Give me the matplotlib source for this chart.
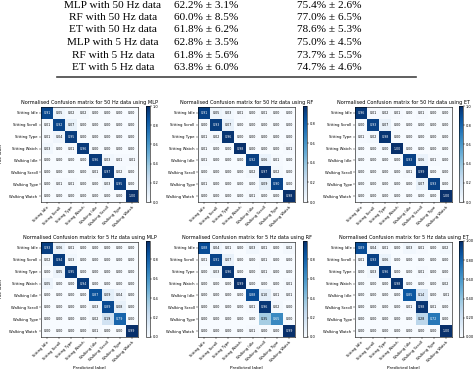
import numpy as np
import matplotlib
matplotlib.use("Agg")
import matplotlib.pyplot as plt
from matplotlib.ticker import FormatStrFormatter

# table rows (top part of the figure)
models = ["MLP with 50 Hz data", "RF with 50 Hz data", "ET with 50 Hz data",
          "MLP with 5 Hz data", "RF with 5 Hz data", "ET with 5 Hz data"]
acc_a = ["62.2% \u00b1 3.1%", "60.0% \u00b1 8.5%", "61.8% \u00b1 6.2%",
         "62.8% \u00b1 3.5%", "61.8% \u00b1 5.6%", "63.8% \u00b1 6.0%"]
acc_b = ["75.4% \u00b1 2.6%", "77.0% \u00b1 6.5%", "78.6% \u00b1 5.3%",
         "75.0% \u00b1 4.5%", "73.7% \u00b1 5.5%", "74.7% \u00b1 4.6%"]

classes = ["Sitting Idle", "Sitting Scroll", "Sitting Type", "Sitting Watch",
           "Walking Idle", "Walking Scroll", "Walking Type", "Walking Watch"]

cm_mlp50 = [
    [0.91, 0.05, 0.02, 0.02, 0.00, 0.00, 0.00, 0.00],
    [0.01, 0.92, 0.07, 0.00, 0.00, 0.00, 0.00, 0.00],
    [0.01, 0.04, 0.95, 0.00, 0.00, 0.00, 0.00, 0.00],
    [0.03, 0.00, 0.01, 0.96, 0.00, 0.00, 0.00, 0.00],
    [0.00, 0.00, 0.00, 0.00, 0.96, 0.03, 0.01, 0.01],
    [0.00, 0.00, 0.00, 0.00, 0.01, 0.97, 0.02, 0.00],
    [0.00, 0.01, 0.01, 0.00, 0.00, 0.03, 0.95, 0.00],
    [0.00, 0.00, 0.00, 0.00, 0.00, 0.00, 0.00, 1.00],
]
cm_rf50 = [
    [0.91, 0.05, 0.03, 0.01, 0.00, 0.01, 0.00, 0.00],
    [0.00, 0.93, 0.07, 0.00, 0.00, 0.00, 0.00, 0.00],
    [0.01, 0.02, 0.96, 0.00, 0.00, 0.00, 0.00, 0.00],
    [0.01, 0.00, 0.00, 0.98, 0.00, 0.00, 0.00, 0.01],
    [0.01, 0.00, 0.00, 0.00, 0.92, 0.06, 0.01, 0.00],
    [0.00, 0.00, 0.00, 0.00, 0.02, 0.97, 0.02, 0.00],
    [0.01, 0.00, 0.00, 0.00, 0.00, 0.09, 0.90, 0.00],
    [0.00, 0.00, 0.00, 0.00, 0.01, 0.00, 0.00, 0.98],
]
cm_et50 = [
    [0.96, 0.01, 0.02, 0.01, 0.00, 0.01, 0.00, 0.00],
    [0.00, 0.93, 0.07, 0.00, 0.00, 0.00, 0.00, 0.00],
    [0.01, 0.02, 0.98, 0.00, 0.00, 0.00, 0.00, 0.00],
    [0.00, 0.00, 0.00, 1.00, 0.00, 0.00, 0.00, 0.00],
    [0.00, 0.00, 0.00, 0.00, 0.93, 0.06, 0.01, 0.00],
    [0.00, 0.00, 0.00, 0.00, 0.01, 0.99, 0.00, 0.00],
    [0.00, 0.00, 0.00, 0.00, 0.00, 0.07, 0.93, 0.00],
    [0.00, 0.00, 0.00, 0.00, 0.00, 0.00, 0.00, 1.00],
]
cm_mlp5 = [
    [0.93, 0.06, 0.01, 0.00, 0.00, 0.00, 0.00, 0.00],
    [0.02, 0.94, 0.03, 0.00, 0.00, 0.00, 0.00, 0.00],
    [0.00, 0.05, 0.95, 0.00, 0.00, 0.00, 0.00, 0.00],
    [0.05, 0.00, 0.00, 0.94, 0.00, 0.00, 0.00, 0.00],
    [0.00, 0.00, 0.00, 0.00, 0.87, 0.09, 0.04, 0.00],
    [0.00, 0.00, 0.00, 0.00, 0.03, 0.89, 0.08, 0.00],
    [0.00, 0.00, 0.00, 0.00, 0.02, 0.19, 0.79, 0.00],
    [0.00, 0.00, 0.00, 0.00, 0.01, 0.00, 0.00, 0.99],
]
cm_rf5 = [
    [0.88, 0.04, 0.01, 0.00, 0.03, 0.01, 0.00, 0.02],
    [0.01, 0.91, 0.07, 0.00, 0.00, 0.01, 0.00, 0.00],
    [0.00, 0.03, 0.96, 0.00, 0.00, 0.01, 0.00, 0.00],
    [0.00, 0.00, 0.00, 0.99, 0.00, 0.00, 0.00, 0.01],
    [0.00, 0.00, 0.00, 0.00, 0.88, 0.10, 0.01, 0.01],
    [0.00, 0.00, 0.00, 0.00, 0.01, 0.96, 0.02, 0.00],
    [0.00, 0.00, 0.00, 0.00, 0.00, 0.35, 0.65, 0.00],
    [0.00, 0.00, 0.00, 0.00, 0.01, 0.00, 0.00, 0.99],
]
cm_et5 = [
    [0.89, 0.04, 0.01, 0.00, 0.03, 0.01, 0.00, 0.02],
    [0.01, 0.93, 0.06, 0.00, 0.00, 0.00, 0.00, 0.00],
    [0.00, 0.03, 0.96, 0.00, 0.00, 0.01, 0.00, 0.00],
    [0.00, 0.00, 0.00, 0.98, 0.00, 0.00, 0.00, 0.02],
    [0.00, 0.00, 0.00, 0.00, 0.85, 0.14, 0.00, 0.01],
    [0.00, 0.00, 0.00, 0.00, 0.01, 0.98, 0.01, 0.00],
    [0.00, 0.00, 0.00, 0.00, 0.00, 0.28, 0.72, 0.00],
    [0.00, 0.00, 0.00, 0.00, 0.00, 0.00, 0.00, 1.00],
]

titles = ["Normalised Confusion matrix for 50 Hz data using MLP",
          "Normalised Confusion matrix for 50 Hz data using RF",
          "Normalised Confusion matrix for 50 Hz data using ET",
          "Normalised Confusion matrix for 5 Hz data using MLP",
          "Normalised Confusion matrix for 5 Hz data using RF",
          "Normalised Confusion matrix for 5 Hz data using ET"]
matrices = [cm_mlp50, cm_rf50, cm_et50, cm_mlp5, cm_rf5, cm_et5]
cbar_fmt = ["%.1f", "%.1f", "%.1f", "%.1f", "%.1f", "%.2f"]

W, H = 474, 370
fig = plt.figure(figsize=(W / 100, H / 100), dpi=100)


def px_axes(x, y, w, h):
    return fig.add_axes([x / W, 1 - (y + h) / H, w / W, h / H])


# ---- table ----
row_y = [5.5, 17.5, 30, 42.5, 55, 67.5]
for i in range(len(models)):
    yy = 1 - row_y[i] / H
    fig.text(113 / W, yy, models[i], ha="center", va="center",
             family="Liberation Serif", fontsize=8.1)
    fig.text(206 / W, yy, acc_a[i], ha="center", va="center",
             family="Liberation Serif", fontsize=8.1)
    fig.text(329 / W, yy, acc_b[i], ha="center", va="center",
             family="Liberation Serif", fontsize=8.1)
fig.add_artist(plt.Line2D([57 / W, 416 / W], [1 - 77 / H, 1 - 77 / H],
                          color="#444444", lw=1.2))

# ---- confusion matrices ----
col_x = [41, 198, 355]
cbar_x = [146, 303, 459]
row_top = [107, 242]
mw, mh = 97, 95

for k, cm in enumerate(matrices):
    r, c = divmod(k, 3)
    cm = np.array(cm)
    ax = px_axes(col_x[c], row_top[r], mw, mh)
    im = ax.imshow(cm, cmap="Blues", aspect="auto", interpolation="nearest")
    ax.set_title(titles[k], fontsize=3.6, pad=2)
    ticks = np.arange(len(classes))
    ax.set_xticks(ticks)
    ax.set_yticks(ticks)
    ax.set_xticklabels(classes, rotation=45, ha="right", rotation_mode="anchor")
    ax.set_yticklabels(classes)
    ax.tick_params(labelsize=2.7, length=1.5, width=0.3, pad=1)
    for s in ax.spines.values():
        s.set_linewidth(0.4)
    thresh = cm.max() / 2.0
    for i in range(cm.shape[0]):
        for j in range(cm.shape[1]):
            ax.text(j, i, format(cm[i, j], ".2f"), ha="center", va="center",
                    fontsize=2.3,
                    color="white" if cm[i, j] > thresh else "black")
    if c == 0:
        ax.set_ylabel("True label", fontsize=3.2)
        ax.yaxis.set_label_coords(-0.39, 0.5)
    if r == 1:
        ax.set_xlabel("Predicted label", fontsize=3.2)
        ax.xaxis.set_label_coords(0.5, -0.31)

    cax = px_axes(cbar_x[c], row_top[r] - 1, 4, mh + 1)
    cb = fig.colorbar(im, cax=cax, format=FormatStrFormatter(cbar_fmt[k]))
    cb.ax.tick_params(labelsize=2.6, length=1.2, width=0.3, pad=1)
    cb.outline.set_linewidth(0.4)

fig.savefig("out.png", dpi=100)
